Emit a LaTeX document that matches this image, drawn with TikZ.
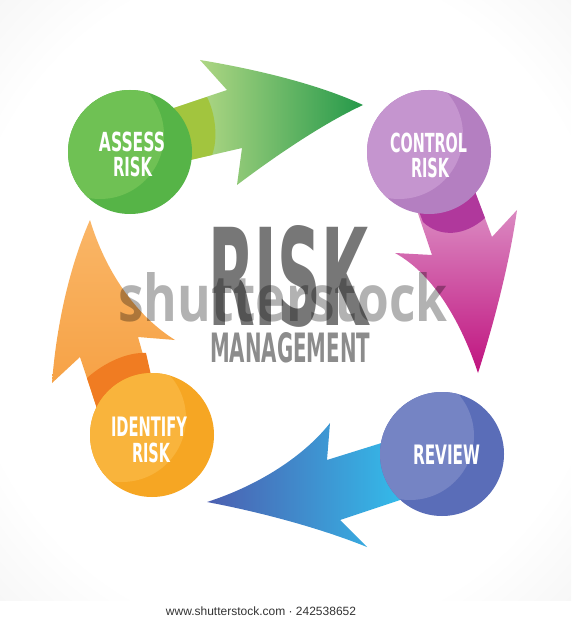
\documentclass[tikz,border=0pt]{standalone}
\usepackage{fontspec}
\setmainfont{Liberation Sans}
\newfontfamily\labfont{DejaVu Sans}
\newfontfamily\wmfont{Open Sans}
\usepackage{graphicx}
\definecolor{bgA}{HTML}{F0F0F0}
\definecolor{bgB}{HTML}{DDDDDD}
\definecolor{bgC}{HTML}{CACACA}
\definecolor{bgD}{HTML}{BCBCBC}
\definecolor{grnL}{HTML}{D8E995}
\definecolor{grnM}{HTML}{ADD777}
\definecolor{grnD}{HTML}{25994A}
\definecolor{grnBand}{HTML}{A2C53E}
\definecolor{magL}{HTML}{E2AAD4}
\definecolor{magM}{HTML}{D67CBB}
\definecolor{magD}{HTML}{C0137F}
\definecolor{magBand}{HTML}{B0389C}
\definecolor{orL}{HTML}{FAB667}
\definecolor{orD}{HTML}{F59C3C}
\definecolor{orBand}{HTML}{F07C22}
\definecolor{bluL}{HTML}{4C5FB0}
\definecolor{bluD}{HTML}{30C8F2}
\definecolor{asB}{HTML}{56B447}
\definecolor{asL}{HTML}{6FC154}
\definecolor{coB}{HTML}{B47FC1}
\definecolor{coL}{HTML}{C595CF}
\definecolor{idB}{HTML}{F6A623}
\definecolor{idL}{HTML}{F9B43C}
\definecolor{reB}{HTML}{5A6DB8}
\definecolor{reL}{HTML}{7584C4}
\definecolor{riskG}{HTML}{777777}
\definecolor{mgmtG}{HTML}{8C8C8C}
\pgfdeclareradialshading{bgshade}{\pgfpoint{0bp}{0bp}}{color(0bp)=(white); color(28bp)=(white); color(42bp)=(bgA); color(50bp)=(bgB); color(60bp)=(bgC); color(72bp)=(bgD)}
\newcommand{\fitlab}[2]{\resizebox{#1}{19.5pt}{\labfont\bfseries #2}}
\tikzset{
  circ/.style={circle, minimum size=124pt, inner sep=0pt, draw=none},
  lab/.style={inner sep=0pt, text=white, anchor=south},
  glow/.style={fill=white, opacity=0.55}
}
\begin{document}
\begin{tikzpicture}[x=1pt,y=-1pt]
\useasboundingbox (0,0) rectangle (571,620);
\fill[white] (0,0) rectangle (571,620);
\shade[shading=bgshade] (0,0) rectangle (571,600);

% glows (behind everything)
\fill[glow] (438,158) circle (62);
\fill[glow] (450,462) circle (62);

% arrows
\shade[left color=grnL, middle color=grnM, right color=grnD]
  (150,116) -- (227,90) -- (200,60) .. controls (260,70) and (320,85) .. (363,105)
  .. controls (320,125) and (270,160) .. (237,185) -- (242,148) -- (160,167) -- cycle;
\shade[top color=magL, middle color=magM, bottom color=magD]
  (405,175) -- (432,255) -- (395,253) .. controls (435,275) and (462,325) .. (478,373)
  .. controls (495,320) and (510,260) .. (517,210) -- (492,237) -- (465,165) -- cycle;
\shade[top color=orL, bottom color=orD]
  (105,433) -- (80,357) -- (52,383) .. controls (56,330) and (68,270) .. (90,220)
  .. controls (105,270) and (135,315) .. (175,340) -- (138,337) -- (160,415) -- cycle;
\shade[left color=bluL, right color=bluD]
  (420,431) -- (327,460) -- (330,423) .. controls (305,455) and (260,485) .. (207,502)
  .. controls (260,512) and (320,528) .. (367,547) -- (340,520) -- (430,490) -- cycle;

% bands
\fill[grnBand] (150,116) -- (207,97) .. controls (216,115) and (218,140) .. (212,155) -- (160,167) -- cycle;
\fill[magBand] (405,175) -- (423,222) .. controls (440,238) and (465,236) .. (485,218) -- (465,165) -- cycle;
\fill[orBand] (87,378) .. controls (105,362) and (128,352) .. (146,353) -- (160,415) -- (105,433) -- cycle;

% circles
\node[circ, fill=asB] (assess) at (130,152) {};
\node[circ, fill=coB] (control) at (429,152) {};
\node[circ, fill=idB] (identify) at (152,435) {};
\node[circ, fill=reB] (review) at (442,454) {};
\begin{scope}
  \clip (130,152) circle (62);
  \fill[asL] (100,135) circle (64);
\end{scope}
\begin{scope}
  \clip (429,152) circle (62);
  \fill[coL] (399,135) circle (64);
\end{scope}
\begin{scope}
  \clip (152,435) circle (62);
  \fill[idL] (122,418) circle (64);
\end{scope}
\begin{scope}
  \clip (442,454) circle (62);
  \fill[reL] (410,436) circle (64);
\end{scope}

% circle labels
\node[lab] (t1a) at (132,152) {\fitlab{66pt}{ASSESS}};
\node[lab] (t1b) at (132.5,177) {\fitlab{39pt}{RISK}};
\node[lab] (t2a) at (428.5,153) {\fitlab{77pt}{CONTROL}};
\node[lab] (t2b) at (430,178) {\fitlab{38pt}{RISK}};
\node[lab] (t3a) at (149,437) {\fitlab{76pt}{IDENTIFY}};
\node[lab] (t3b) at (151,463) {\fitlab{38pt}{RISK}};
\node[lab] (t4a) at (446.5,465) {\fitlab{67pt}{REVIEW}};

% title
\node[anchor=south west, inner sep=0pt, text=riskG] (risk) at (208,328) {\resizebox{160pt}{100pt}{\labfont\bfseries RISK}};
\node[anchor=south west, inner sep=0pt, text=mgmtG] (mgmt) at (210,363) {\resizebox{160pt}{30pt}{\labfont\bfseries MANAGEMENT}};

% watermark
\node[anchor=south west, inner sep=0pt, text=black, text opacity=0.3] (wm) at (118,322) {\resizebox{329pt}{49pt}{\wmfont\bfseries shutterstock}};

% footer
\node[inner sep=0pt, text=black!80] (foot) at (261,611) {\fontsize{12}{14}\selectfont www.shutterstock.com · 242538652};
\end{tikzpicture}
\end{document}
